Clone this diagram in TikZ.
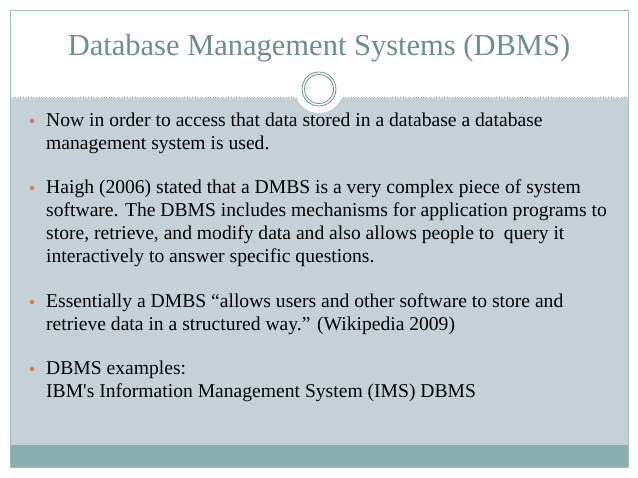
\documentclass[tikz,border=0pt]{standalone}
\usepackage{fontspec}
\setmainfont{Liberation Serif}
\newfontfamily\plainf{Liberation Serif}
\begin{document}
\begin{tikzpicture}[x=1pt,y=-1pt,
  line/.style={anchor=base west,inner sep=0pt,font=\fontsize{19.6}{22}\selectfont,text=black},
  dot/.style={circle,fill=bulletc,inner sep=0pt,minimum size=4.5pt}]
\definecolor{panel}{HTML}{C5D1D7}
\definecolor{band}{HTML}{8AADAD}
\definecolor{titlec}{HTML}{6E8E8E}
\definecolor{bulletc}{HTML}{D9775E}
\definecolor{framec}{HTML}{A7BDBD}
\useasboundingbox (0,0) rectangle (638,478);
\fill[white] (0,0) rectangle (638,478);
\fill[panel] (10,98) rectangle (628,445);
\fill[band] (10,445) rectangle (628,467);
\draw[framec,line width=0.8pt] (10,10) rectangle (628,467);
\draw[gray!70,dotted,line width=0.6pt] (10,97) -- (628,97);
\node[anchor=base,inner sep=0pt,text=titlec,font=\fontsize{30.5}{34}\selectfont] (title) at (319,56) {Database Management Systems (DBMS)};
\fill[white] (319,89) circle (24);
\draw[titlec,line width=0.8pt] (319,89) circle (17);
\draw[titlec,line width=0.8pt] (319,89) circle (14.5);
\node[dot] (b1) at (32,121) {};
\node[dot] (b2) at (32,188) {};
\node[dot] (b3) at (32,302) {};
\node[dot] (b4) at (32,369) {};
\node[line] (l1) at (46,127) {Now in order to access that data stored in a database a database};
\node[line] (l2) at (46,150) {management system is used.};
\node[line] (l3) at (46,194) {Haigh (2006) stated that a DMBS is a very complex piece of system};
\node[line] (l4) at (46,217) {software. The DBMS includes mechanisms for application programs to};
\node[line] (l5) at (46,240) {store, retrieve, and modify data and also allows people to\ \ query it};
\node[line] (l6) at (46,263) {interactively to answer specific questions.};
\node[line] (l7) at (46,308) {Essentially a DMBS “allows users and other software to store and};
\node[line] (l8) at (46,331) {retrieve data in a structured way.” (Wikipedia 2009)};
\node[line] (l9) at (46,375) {DBMS examples:};
\node[line] (l10) at (46,398) {IBM{\plainf'}s Information Management System (IMS) DBMS};
\end{tikzpicture}
\end{document}
